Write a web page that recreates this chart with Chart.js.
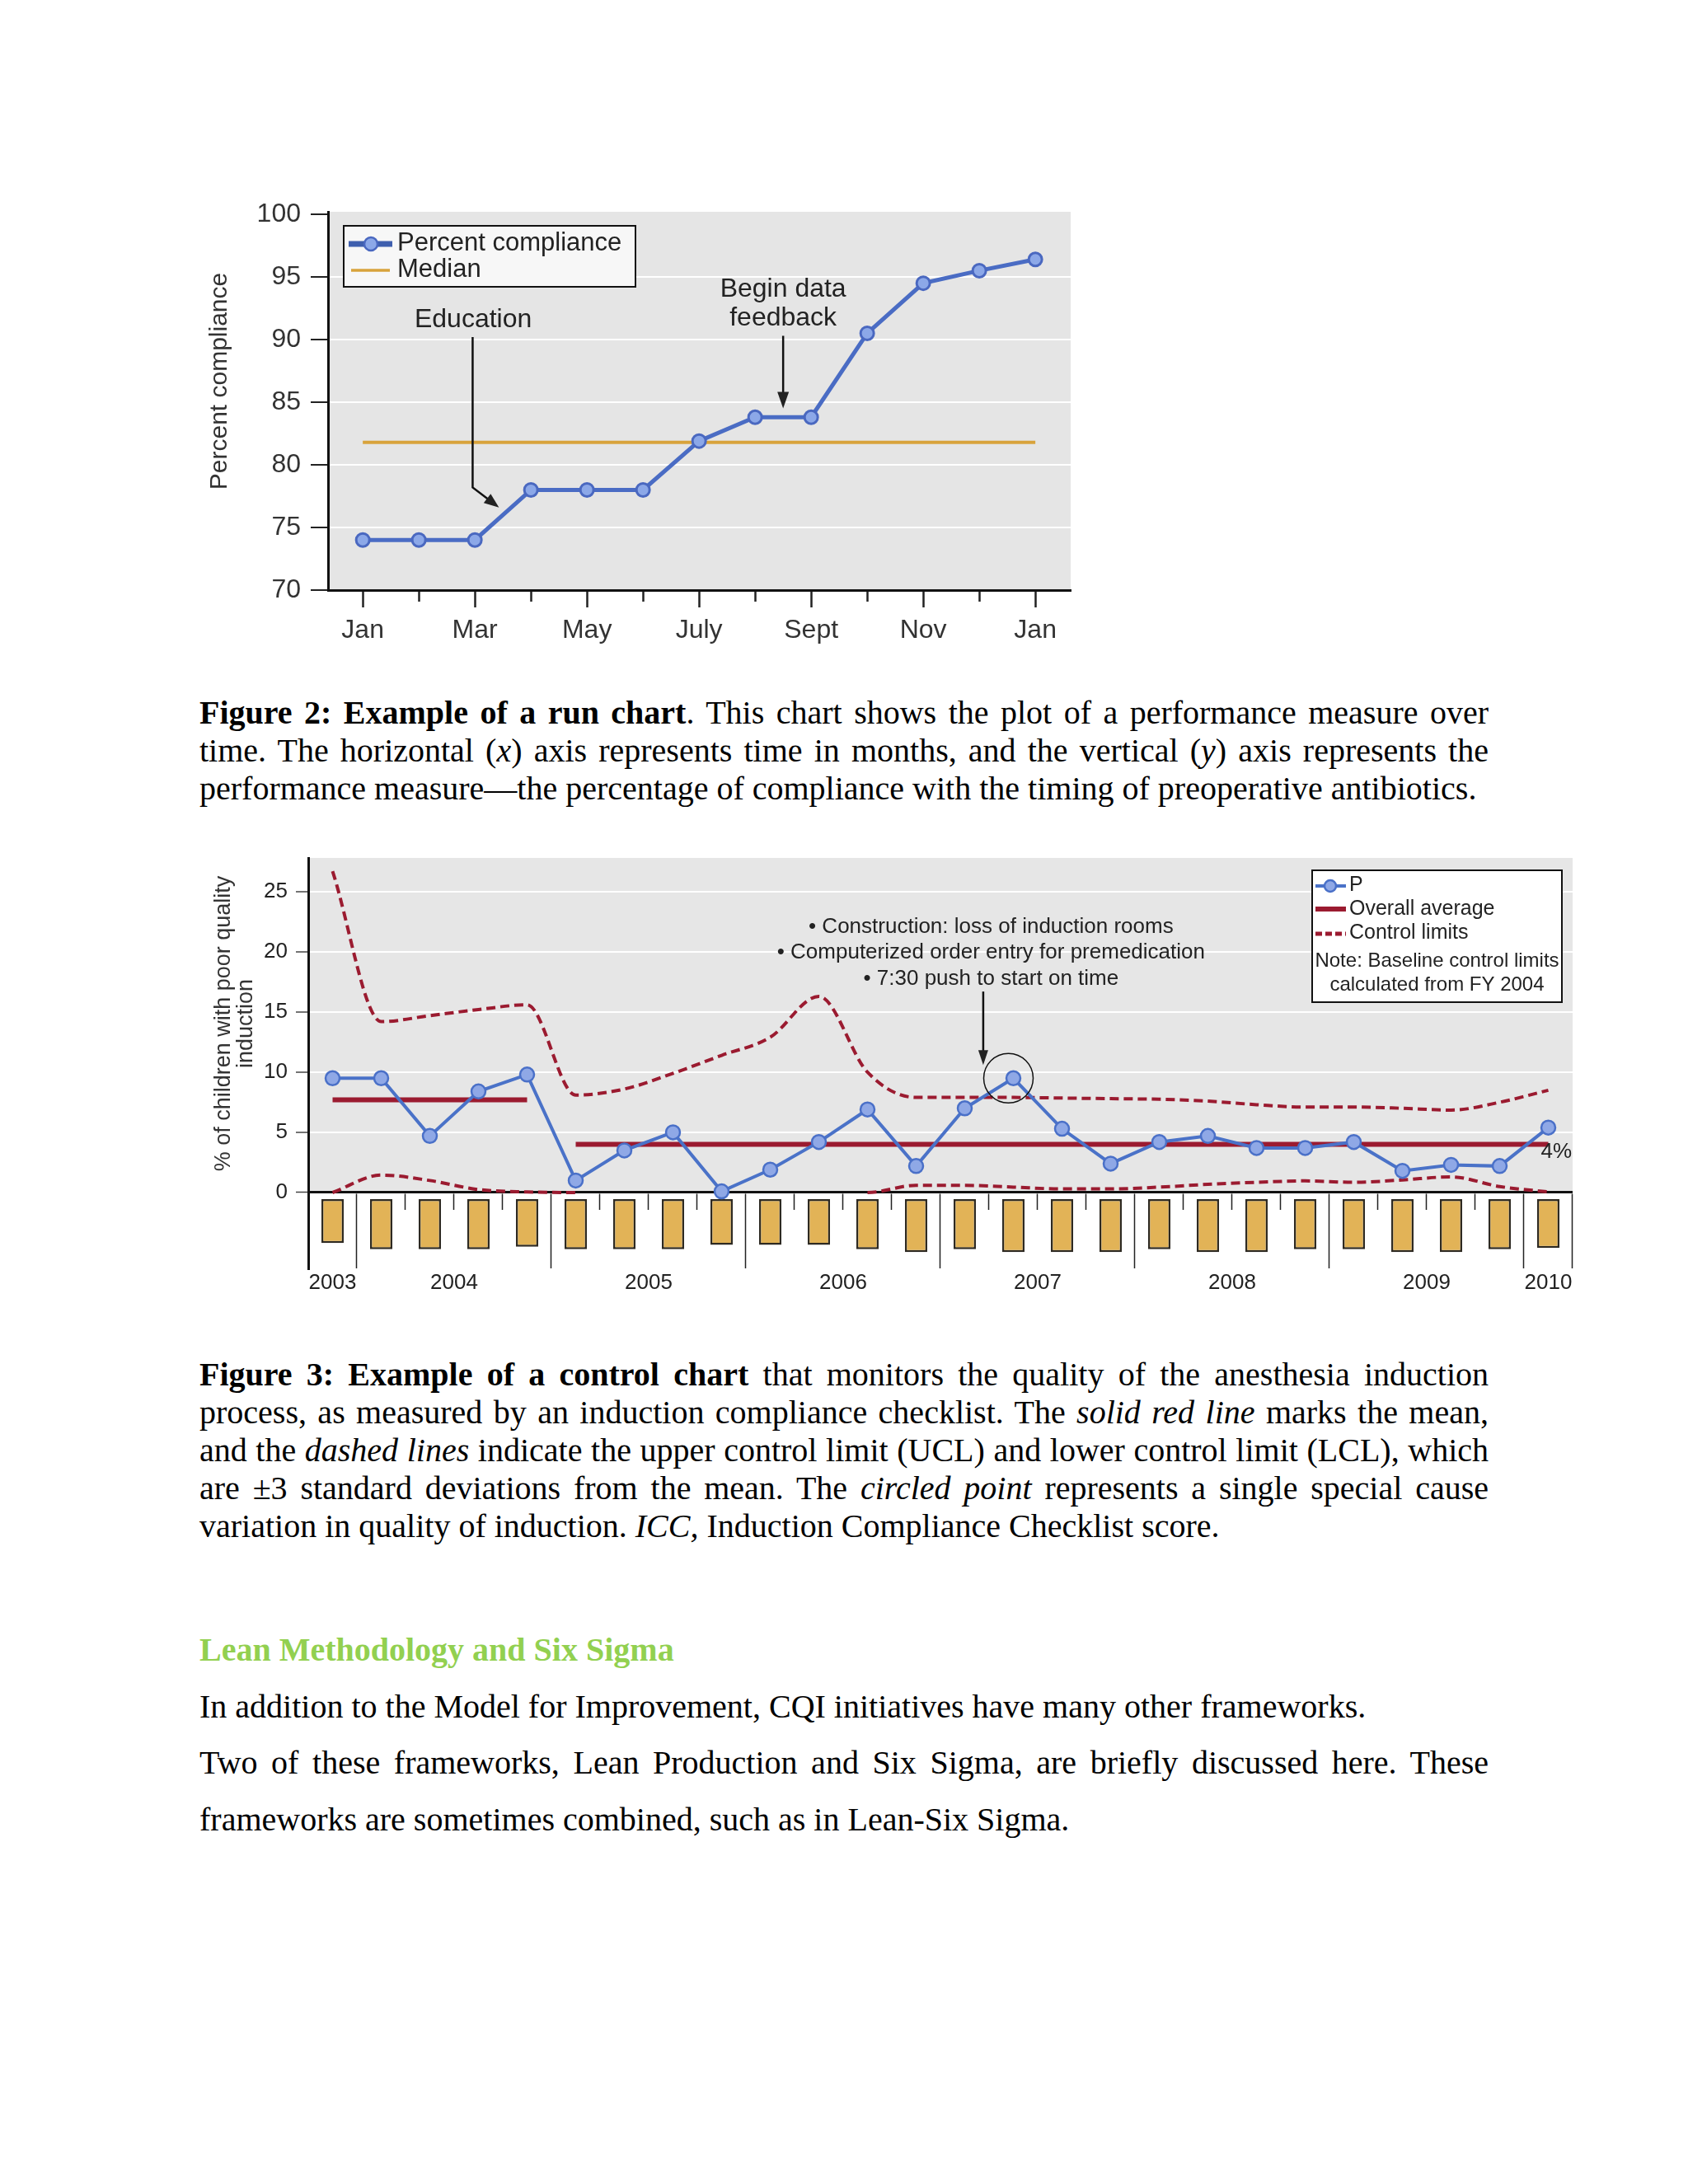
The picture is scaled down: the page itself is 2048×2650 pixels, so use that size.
<!DOCTYPE html>
<html>
<head>
<meta charset="utf-8">
<script src="https://cdn.jsdelivr.net/npm/chart.js@4.4.1/dist/chart.umd.min.js"></script>
<style>
  html, body { margin: 0; padding: 0; background: #ffffff; }
  body { width: 2048px; height: 2650px; position: relative; overflow: hidden;
         font-family: "Liberation Serif", "Times New Roman", serif; color: #000; }
  .box { position: absolute; }
  .txt { position: absolute; left: 242px; width: 1564px; font-size: 40px; line-height: 46px; }
  .j { text-align: justify; text-align-last: justify; }
  .heading { color: #92d050; font-weight: bold; }
</style>
</head>
<body>

<div class="box" style="left:240px;top:230px;width:1070px;height:560px;">
  <canvas id="runChart" width="1070" height="560"></canvas>
</div>

<div class="txt" style="top:842px;">
  <div class="j"><b>Figure 2: Example of a run chart</b>. This chart shows the plot of a performance measure over</div>
  <div class="j">time. The horizontal (<i>x</i>) axis represents time in months, and the vertical (<i>y</i>) axis represents the</div>
  <div>performance measure—the percentage of compliance with the timing of preoperative antibiotics.</div>
</div>

<div class="box" style="left:240px;top:1030px;width:1680px;height:549px;">
  <canvas id="ctrlChart" width="1680" height="549"></canvas>
</div>

<div class="txt" style="top:1645px;">
  <div class="j"><b>Figure 3: Example of a control chart</b> that monitors the quality of the anesthesia induction</div>
  <div class="j">process, as measured by an induction compliance checklist. The <i>solid red line</i> marks the mean,</div>
  <div class="j">and the <i>dashed lines</i> indicate the upper control limit (UCL) and lower control limit (LCL), which</div>
  <div class="j">are ±3 standard deviations from the mean. The <i>circled point</i> represents a single special cause</div>
  <div>variation in quality of induction. <i>ICC,</i> Induction Compliance Checklist score.</div>
</div>

<div class="txt" style="top:1968px;line-height:68.5px;">
  <div class="heading">Lean Methodology and Six Sigma</div>
  <div>In addition to the Model for Improvement, CQI initiatives have many other frameworks.</div>
  <div class="j">Two of these frameworks, Lean Production and Six Sigma, are briefly discussed here. These</div>
  <div>frameworks are sometimes combined, such as in Lean-Six Sigma.</div>
</div>

<script>
// ================= Figure 2 : run chart data =================
const runMonths = ['Jan', 'Feb', 'Mar', 'Apr', 'May', 'June', 'July', 'Aug', 'Sept', 'Oct', 'Nov', 'Dec', 'Jan'];
const runTickLabels = ['Jan', '', 'Mar', '', 'May', '', 'July', '', 'Sept', '', 'Nov', '', 'Jan'];
const percentCompliance = [74, 74, 74, 78, 78, 78, 81.9, 83.8, 83.8, 90.5, 94.5, 95.5, 96.4];
const medianCompliance = [81.8, 81.8, 81.8, 81.8, 81.8, 81.8, 81.8, 81.8, 81.8, 81.8, 81.8, 81.8, 81.8];
const runYTicks = [70, 75, 80, 85, 90, 95, 100];

// ================= Figure 3 : control chart data =================
const quarters = ['2003 Q4',
  '2004 Q1', '2004 Q2', '2004 Q3', '2004 Q4',
  '2005 Q1', '2005 Q2', '2005 Q3', '2005 Q4',
  '2006 Q1', '2006 Q2', '2006 Q3', '2006 Q4',
  '2007 Q1', '2007 Q2', '2007 Q3', '2007 Q4',
  '2008 Q1', '2008 Q2', '2008 Q3', '2008 Q4',
  '2009 Q1', '2009 Q2', '2009 Q3', '2009 Q4',
  '2010 Q1'];
const pPercent = [9.5, 9.5, 4.7, 8.4, 9.8, 1.0, 3.5, 5.0, 0.1, 1.9, 4.2, 6.9, 2.2,
                  7.0, 9.5, 5.3, 2.4, 4.2, 4.7, 3.7, 3.7, 4.2, 1.8, 2.3, 2.2, 5.4];
const baselineMean = [7.7, 7.7, 7.7, 7.7, 7.7, null, null, null, null, null, null, null, null,
                      null, null, null, null, null, null, null, null, null, null, null, null, null];
const overallMean = [null, null, null, null, null, 4.0, 4.0, 4.0, 4.0, 4.0, 4.0, 4.0, 4.0,
                     4.0, 4.0, 4.0, 4.0, 4.0, 4.0, 4.0, 4.0, 4.0, 4.0, 4.0, 4.0, 4.0];
const upperLimit = [26.7, 14.2, 14.7, 15.2, 15.6, 8.1, 8.6, 9.9, 11.4, 12.9, 16.3, 10.0, 7.9,
                    7.9, 7.9, 7.85, 7.8, 7.75, 7.6, 7.3, 7.1, 7.1, 7.0, 6.85, 7.5, 8.5];
const lowerLimit = [0, 1.45, 1.0, 0.25, 0.05, 0, 0, 0, 0, 0, 0, 0, 0.6,
                    0.6, 0.45, 0.3, 0.3, 0.45, 0.68, 0.85, 0.97, 0.85, 1.05, 1.3, 0.5, 0.05];
const markerTop = -0.55;
const markerBottoms = [-4.2, -4.7, -4.7, -4.7, -4.5, -4.7, -4.7, -4.7, -4.35, -4.35, -4.35, -4.7, -4.95,
                       -4.7, -4.95, -4.95, -4.95, -4.7, -4.95, -4.95, -4.7, -4.7, -4.95, -4.95, -4.7, -4.6];
const ctrlYTicks = [0, 5, 10, 15, 20, 25];
const specialCauseIndex = 14;
const overallMeanLabel = '4%';
const ctrlNotes = ['\u2022 Construction: loss of induction rooms',
                   '\u2022 Computerized order entry for premedication',
                   '\u2022 7:30 push to start on time'];

// derived year grouping
const yearOf = quarters.map(q => q.slice(0, 4));
const yearNames = [...new Set(yearOf)];
const yearCenters = yearNames.map(y => {
  const idx = yearOf.map((v, i) => v === y ? i : -1).filter(i => i >= 0);
  return (idx[0] + idx[idx.length - 1]) / 2;
});

Chart.defaults.font.family = "'Liberation Sans', Arial, Helvetica, sans-serif";
Chart.defaults.color = '#333';

const SANS = "'Liberation Sans', Arial, Helvetica, sans-serif";

const noPadV = s => { s.paddingTop = 0; s.paddingBottom = 0; };
const noPadH = s => { s.paddingLeft = 0; s.paddingRight = 0; };

const plotBg = {
  id: 'plotBg',
  beforeDraw(chart, args, opts) {
    const { ctx, chartArea: a } = chart;
    const bottom = opts.toZero ? chart.scales.y.getPixelForValue(0) : a.bottom;
    ctx.save();
    ctx.fillStyle = opts.color;
    ctx.fillRect(a.left, a.top, a.right - a.left, bottom - a.top);
    ctx.restore();
  }
};

function arrowHead(ctx, x1, y1, x2, y2, len, hw) {
  const ang = Math.atan2(y2 - y1, x2 - x1);
  const c = Math.cos(ang), s = Math.sin(ang);
  ctx.beginPath();
  ctx.moveTo(x2, y2);
  ctx.lineTo(x2 - len * c + hw * s, y2 - len * s - hw * c);
  ctx.lineTo(x2 - len * c - hw * s, y2 - len * s + hw * c);
  ctx.closePath();
  ctx.fill();
}

function arrowPath(ctx, pts, len, hw) {
  const n = pts.length;
  const [xa, ya] = pts[n - 2], [xb, yb] = pts[n - 1];
  const d = Math.hypot(xb - xa, yb - ya);
  const ex = xb - (xb - xa) / d * len * 0.8, ey = yb - (yb - ya) / d * len * 0.8;
  ctx.beginPath();
  ctx.moveTo(pts[0][0], pts[0][1]);
  for (let i = 1; i < n - 1; i++) ctx.lineTo(pts[i][0], pts[i][1]);
  ctx.lineTo(ex, ey);
  ctx.stroke();
  arrowHead(ctx, xa, ya, xb, yb, len, hw);
}

// ---------------- Figure 2 annotations ----------------
const runAnnot = {
  id: 'runAnnot',
  afterDatasetsDraw(chart) {
    const { ctx } = chart;
    const X = v => chart.scales.x.getPixelForValue(v);
    const Y = v => chart.scales.y.getPixelForValue(v);
    ctx.save();
    ctx.fillStyle = '#222';
    ctx.strokeStyle = '#111';
    ctx.lineWidth = 2.5;
    ctx.font = '32px ' + SANS;
    ctx.textAlign = 'center';
    ctx.textBaseline = 'alphabetic';
    ctx.fillText('Education', X(1.97), Y(91.0));
    ctx.fillText('Begin data', X(7.5), Y(93.4));
    ctx.fillText('feedback', X(7.5), Y(91.1));
    arrowPath(ctx, [[X(1.96), Y(90.2)], [X(1.96), Y(78.2)], [X(2.43), Y(76.6)]], 18, 7);
    arrowPath(ctx, [[X(7.5), Y(90.3)], [X(7.5), Y(84.5)]], 20, 7);
    ctx.restore();
  },
  afterDraw(chart) {
    const { ctx, chartArea: a } = chart;
    ctx.save();
    const bx = a.left + 19, by = a.top + 17, bw = 354, bh = 74;
    ctx.fillStyle = '#f7f7f7';
    ctx.fillRect(bx, by, bw, bh);
    ctx.strokeStyle = '#111';
    ctx.lineWidth = 2;
    ctx.strokeRect(bx, by, bw, bh);
    ctx.strokeStyle = '#3f5fae';
    ctx.lineWidth = 7;
    ctx.beginPath(); ctx.moveTo(bx + 6, by + 22); ctx.lineTo(bx + 59, by + 22); ctx.stroke();
    ctx.beginPath(); ctx.arc(bx + 33, by + 22, 8, 0, Math.PI * 2);
    ctx.fillStyle = '#8ca8e8'; ctx.fill();
    ctx.lineWidth = 2.5; ctx.strokeStyle = '#4a68c0'; ctx.stroke();
    ctx.strokeStyle = '#d8a33c';
    ctx.lineWidth = 3.5;
    ctx.beginPath(); ctx.moveTo(bx + 9, by + 54); ctx.lineTo(bx + 56, by + 54); ctx.stroke();
    ctx.fillStyle = '#222';
    ctx.font = '31px ' + SANS;
    ctx.textAlign = 'left';
    ctx.textBaseline = 'middle';
    ctx.fillText('Percent compliance', bx + 65, by + 21);
    ctx.fillText('Median', bx + 65, by + 53);
    ctx.translate(27, (a.top + a.bottom) / 2 - 24);
    ctx.rotate(-Math.PI / 2);
    ctx.textAlign = 'center';
    ctx.font = '30px ' + SANS;
    ctx.fillStyle = '#333';
    ctx.fillText('Percent compliance', 0, 0);
    ctx.restore();
  }
};

new Chart(document.getElementById('runChart'), {
  type: 'line',
  data: {
    datasets: [
      {
        label: 'Percent compliance',
        data: percentCompliance.map((v, i) => ({ x: i, y: v })),
        borderColor: '#4a6cc4', borderWidth: 5,
        pointRadius: 8, pointBackgroundColor: '#8ca8e8',
        pointBorderColor: '#4a68c0', pointBorderWidth: 3, tension: 0
      },
      {
        label: 'Median',
        data: medianCompliance.map((v, i) => ({ x: i, y: v })),
        borderColor: '#d8a33c', borderWidth: 4, pointRadius: 0
      }
    ]
  },
  options: {
    responsive: false, animation: false, devicePixelRatio: 1, events: [],
    layout: { padding: { top: 27, right: 10, left: 0, bottom: 0 } },
    plugins: { legend: { display: false }, tooltip: { enabled: false }, plotBg: { color: '#e5e5e5' } },
    scales: {
      x: {
        type: 'linear', min: -0.62, max: 12.63, bounds: 'data',
        afterBuildTicks: s => { s.ticks = runMonths.map((m, i) => ({ value: i })); },
        afterFit: s => { s.height = 74; noPadH(s); },
        ticks: { autoSkip: false, maxRotation: 0, minRotation: 0, padding: 9, color: '#333',
                 font: { size: 32 }, callback: v => runTickLabels[v] ?? '' },
        grid: { display: true, drawOnChartArea: false, drawTicks: true, tickLength: 21,
                tickWidth: 2.5, tickColor: '#222',
                tickBorderDash: c => runTickLabels[c.index] ? [] : [12, 40] },
        border: { display: true, color: '#111', width: 3 }
      },
      y: {
        min: 70, max: 100.2, bounds: 'data',
        afterBuildTicks: s => { s.ticks = runYTicks.map(v => ({ value: v })); },
        afterFit: s => { s.width = 158; noPadV(s); },
        ticks: { padding: 12, color: '#333', font: { size: 32 } },
        grid: { color: c => (c.tick && c.tick.value > 70 && c.tick.value < 100) ? '#ffffff' : 'rgba(0,0,0,0)',
                lineWidth: 2, tickLength: 21, tickWidth: 2, tickColor: '#222' },
        border: { display: true, color: '#111', width: 3 }
      }
    }
  },
  plugins: [plotBg, runAnnot]
});

// ---------------- Figure 3 annotations ----------------
const ctrlAnnot = {
  id: 'ctrlAnnot',
  afterDatasetsDraw(chart) {
    const { ctx, chartArea: a } = chart;
    const xl = chart.scales.xYear;
    const X = v => xl.getPixelForValue(v);
    const Y = v => chart.scales.y.getPixelForValue(v);
    const y0 = Y(0);
    ctx.save();
    ctx.strokeStyle = '#222';
    ctx.lineWidth = 1.5;
    ctx.beginPath();
    for (let i = 0; i < quarters.length; i++) {
      const isLong = i === quarters.length - 1 || yearOf[i] !== yearOf[i + 1];
      const px = Math.round(X(i + 0.5)) - 0.5;
      ctx.moveTo(px, y0 + 1.5);
      ctx.lineTo(px, isLong ? a.bottom : y0 + 21);
    }
    ctx.stroke();

    ctx.strokeStyle = '#111';
    ctx.lineWidth = 1.5;
    ctx.beginPath();
    ctx.arc(X(specialCauseIndex) - 6, Y(pPercent[specialCauseIndex]), 30, 0, Math.PI * 2);
    ctx.stroke();

    ctx.fillStyle = '#222';
    ctx.font = '26px ' + SANS;
    ctx.textAlign = 'center';
    ctx.textBaseline = 'alphabetic';
    ctx.fillText(ctrlNotes[0], X(13.54), Y(21.6));
    ctx.fillText(ctrlNotes[1], X(13.54), Y(19.45));
    ctx.fillText(ctrlNotes[2], X(13.54), Y(17.25));
    ctx.lineWidth = 2.5;
    arrowPath(ctx, [[X(13.38), Y(16.7)], [X(13.38), Y(10.6)]], 18, 6);

    ctx.textAlign = 'left';
    ctx.textBaseline = 'middle';
    ctx.fillText(overallMeanLabel, X(quarters.length - 1) - 9, Y(4) + 9);
    ctx.restore();
  },
  afterDraw(chart) {
    const { ctx, chartArea: a } = chart;
    ctx.save();
    const bx = a.right - 316, by = a.top + 15, bw = 303, bh = 160;
    ctx.fillStyle = '#ffffff';
    ctx.fillRect(bx, by, bw, bh);
    ctx.strokeStyle = '#111';
    ctx.lineWidth = 2;
    ctx.strokeRect(bx, by, bw, bh);
    const sx0 = bx + 4, sx1 = bx + 41;
    ctx.strokeStyle = '#4a72c8'; ctx.lineWidth = 4;
    ctx.beginPath(); ctx.moveTo(sx0, by + 19); ctx.lineTo(sx1, by + 19); ctx.stroke();
    ctx.beginPath(); ctx.arc(bx + 22, by + 19, 7, 0, Math.PI * 2);
    ctx.fillStyle = '#8fa8e6'; ctx.fill();
    ctx.lineWidth = 2.5; ctx.strokeStyle = '#4a70c8'; ctx.stroke();
    ctx.strokeStyle = '#9b1b30'; ctx.lineWidth = 6;
    ctx.beginPath(); ctx.moveTo(sx0, by + 47); ctx.lineTo(sx1, by + 47); ctx.stroke();
    ctx.lineWidth = 5; ctx.setLineDash([8, 4]);
    ctx.beginPath(); ctx.moveTo(sx0, by + 77); ctx.lineTo(sx1, by + 77); ctx.stroke();
    ctx.setLineDash([]);
    ctx.fillStyle = '#222';
    ctx.font = '25px ' + SANS;
    ctx.textAlign = 'left';
    ctx.textBaseline = 'middle';
    ctx.fillText('P', bx + 45, by + 18);
    ctx.fillText('Overall average', bx + 45, by + 47);
    ctx.fillText('Control limits', bx + 45, by + 76);
    ctx.font = '24px ' + SANS;
    ctx.textAlign = 'center';
    ctx.fillText('Note: Baseline control limits', bx + bw / 2, by + 110);
    ctx.fillText('calculated from FY 2004', bx + bw / 2, by + 139);

    const cy = (a.top + a.bottom) / 2 - 48;
    ctx.fillStyle = '#333';
    ctx.font = '27px ' + SANS;
    ctx.save();
    ctx.translate(31.5, cy); ctx.rotate(-Math.PI / 2);
    ctx.fillText('% of children with poor quality', 0, 0);
    ctx.restore();
    ctx.save();
    ctx.translate(59, cy); ctx.rotate(-Math.PI / 2);
    ctx.fillText('induction', 0, 0);
    ctx.restore();
    ctx.restore();
  }
};

const limitColor = '#9b1b30';

new Chart(document.getElementById('ctrlChart'), {
  type: 'line',
  data: {
    labels: quarters,
    datasets: [
      {
        label: 'P', data: pPercent,
        borderColor: '#4a72c8', borderWidth: 4,
        pointRadius: 8.5, pointBackgroundColor: '#8fa8e6',
        pointBorderColor: '#4a70c8', pointBorderWidth: 2.5, tension: 0
      },
      { label: 'Overall average (baseline)', data: baselineMean, borderColor: limitColor, borderWidth: 6, pointRadius: 0 },
      { label: 'Overall average', data: overallMean, borderColor: limitColor, borderWidth: 6, pointRadius: 0 },
      {
        label: 'Upper control limit', data: upperLimit, borderColor: limitColor, borderWidth: 4,
        borderDash: [11, 6], pointRadius: 0, cubicInterpolationMode: 'monotone'
      },
      {
        label: 'Lower control limit', data: lowerLimit, borderColor: limitColor, borderWidth: 4,
        borderDash: [11, 6], pointRadius: 0, cubicInterpolationMode: 'monotone',
        segment: { borderColor: c => (c.p0.parsed.y === 0 && c.p1.parsed.y === 0) ? 'rgba(0,0,0,0)' : undefined }
      },
      {
        type: 'bar', label: 'Quarter', data: markerBottoms.map(b => [markerTop, b]),
        backgroundColor: '#e2b357', borderColor: '#2e2a22', borderWidth: 2.5,
        borderSkipped: false, barPercentage: 0.46, categoryPercentage: 1
      }
    ]
  },
  options: {
    responsive: false, animation: false, devicePixelRatio: 1, events: [],
    layout: { padding: { top: 11, right: 12, left: 0, bottom: 0 } },
    plugins: { legend: { display: false }, tooltip: { enabled: false },
               plotBg: { color: '#e6e6e6', toZero: true } },
    scales: {
      x: { type: 'category', display: false, offset: true },
      xYear: {
        type: 'linear', axis: 'x', position: 'bottom', min: -0.5, max: 25.5, bounds: 'data',
        afterBuildTicks: s => { s.ticks = yearCenters.map(v => ({ value: v })); },
        afterFit: s => { s.height = 40; noPadH(s); },
        ticks: { autoSkip: false, maxRotation: 0, minRotation: 0, padding: 2, color: '#222',
                 font: { size: 26 }, callback: (v, i) => yearNames[i] },
        grid: { display: false, drawTicks: false },
        border: { display: false }
      },
      y: {
        min: -6.3, max: 27.8, bounds: 'data',
        afterBuildTicks: s => { s.ticks = ctrlYTicks.map(v => ({ value: v })); },
        afterFit: s => { s.width = 134; noPadV(s); },
        ticks: { padding: 10, color: '#222', font: { size: 26 } },
        grid: { color: c => (c.tick && c.tick.value === 0) ? '#111' : '#ffffff',
                lineWidth: c => (c.tick && c.tick.value === 0) ? 3 : 2,
                tickLength: 15, tickWidth: 1.5, tickColor: '#444' },
        border: { display: true, color: '#111', width: 3 }
      }
    }
  },
  plugins: [plotBg, ctrlAnnot]
});
</script>
</body>
</html>
